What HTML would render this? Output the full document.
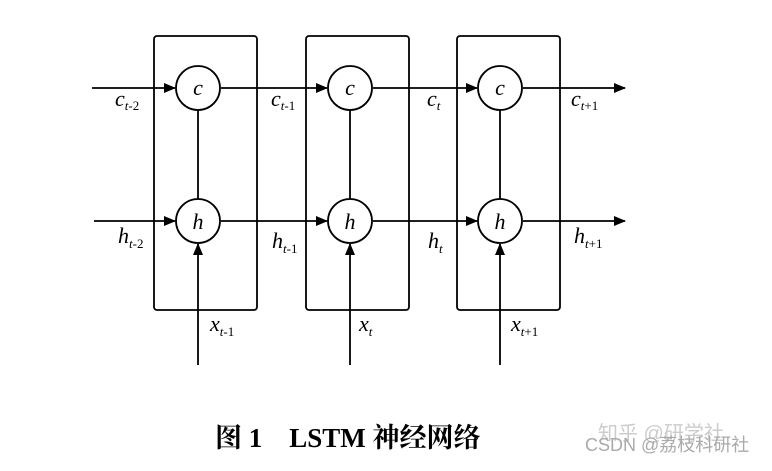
<!DOCTYPE html>
<html><head><meta charset="utf-8"><style>
body{margin:0;background:#fff;width:772px;height:466px;overflow:hidden}
</style></head><body>
<svg width="772" height="466" xmlns="http://www.w3.org/2000/svg" font-family="Liberation Serif, serif">
<defs><marker id="a" markerWidth="12" markerHeight="10" refX="11" refY="5" orient="auto" markerUnits="userSpaceOnUse"><path d="M0,0L12,5L0,10z" fill="#000"/></marker></defs>
<g fill="none" stroke="#000" stroke-width="1.8">
<rect x="154" y="36" width="103" height="274" rx="3"/>
<rect x="306" y="36" width="103" height="274" rx="3"/>
<rect x="457" y="36" width="103" height="274" rx="3"/>
<line x1="92" y1="88" x2="175" y2="88" marker-end="url(#a)"/>
<line x1="221" y1="88" x2="327" y2="88" marker-end="url(#a)"/>
<line x1="373" y1="88" x2="477" y2="88" marker-end="url(#a)"/>
<line x1="523" y1="88" x2="625" y2="88" marker-end="url(#a)"/>
<line x1="94" y1="221" x2="175" y2="221" marker-end="url(#a)"/>
<line x1="221" y1="221" x2="327" y2="221" marker-end="url(#a)"/>
<line x1="373" y1="221" x2="477" y2="221" marker-end="url(#a)"/>
<line x1="523" y1="221" x2="625" y2="221" marker-end="url(#a)"/>
<line x1="198" y1="110" x2="198" y2="199"/>
<line x1="350" y1="110" x2="350" y2="199"/>
<line x1="500" y1="110" x2="500" y2="199"/>
<line x1="198" y1="365" x2="198" y2="244" marker-end="url(#a)"/>
<line x1="350" y1="365" x2="350" y2="244" marker-end="url(#a)"/>
<line x1="500" y1="365" x2="500" y2="244" marker-end="url(#a)"/>
<circle cx="198" cy="88" r="22" fill="#fff"/>
<circle cx="350" cy="88" r="22" fill="#fff"/>
<circle cx="500" cy="88" r="22" fill="#fff"/>
<circle cx="198" cy="221" r="22" fill="#fff"/>
<circle cx="350" cy="221" r="22" fill="#fff"/>
<circle cx="500" cy="221" r="22" fill="#fff"/>
</g>
<g font-style="italic" font-size="22" text-anchor="middle">
<text x="198" y="95">c</text><text x="350" y="95">c</text><text x="500" y="95">c</text>
<text x="198" y="229">h</text><text x="350" y="229">h</text><text x="500" y="229">h</text>
</g>
<g font-style="italic" font-size="22">
<text x="115" y="106">c<tspan font-size="13" dy="4">t</tspan><tspan font-size="13" font-style="normal">-2</tspan></text>
<text x="271" y="106">c<tspan font-size="13" dy="4">t</tspan><tspan font-size="13" font-style="normal">-1</tspan></text>
<text x="427" y="106">c<tspan font-size="13" dy="4">t</tspan></text>
<text x="571" y="106">c<tspan font-size="13" dy="4">t</tspan><tspan font-size="13" font-style="normal">+1</tspan></text>
<text x="118" y="243">h<tspan font-size="13" dy="5">t</tspan><tspan font-size="13" font-style="normal">-2</tspan></text>
<text x="272" y="248">h<tspan font-size="13" dy="5">t</tspan><tspan font-size="13" font-style="normal">-1</tspan></text>
<text x="428" y="248">h<tspan font-size="13" dy="5">t</tspan></text>
<text x="574" y="243">h<tspan font-size="13" dy="5">t</tspan><tspan font-size="13" font-style="normal">+1</tspan></text>
<text x="210" y="331">x<tspan font-size="13" dy="5">t</tspan><tspan font-size="13" font-style="normal">-1</tspan></text>
<text x="359" y="331">x<tspan font-size="13" dy="5">t</tspan></text>
<text x="511" y="331">x<tspan font-size="13" dy="5">t</tspan><tspan font-size="13" font-style="normal">+1</tspan></text>
</g>
<text x="215" y="447" font-size="27" font-weight="bold" font-family="Liberation Serif, Noto Serif CJK SC, serif">图 1　LSTM 神经网络</text>
<text x="598" y="440" font-size="20" fill="#ccc" font-family="Liberation Sans, Noto Sans CJK SC, sans-serif">知乎 @研学社</text>
<text x="585" y="451" font-size="18" fill="#aaa" font-family="Liberation Sans, Noto Sans CJK SC, sans-serif">CSDN @荔枝科研社</text>
</svg>
</body></html>
